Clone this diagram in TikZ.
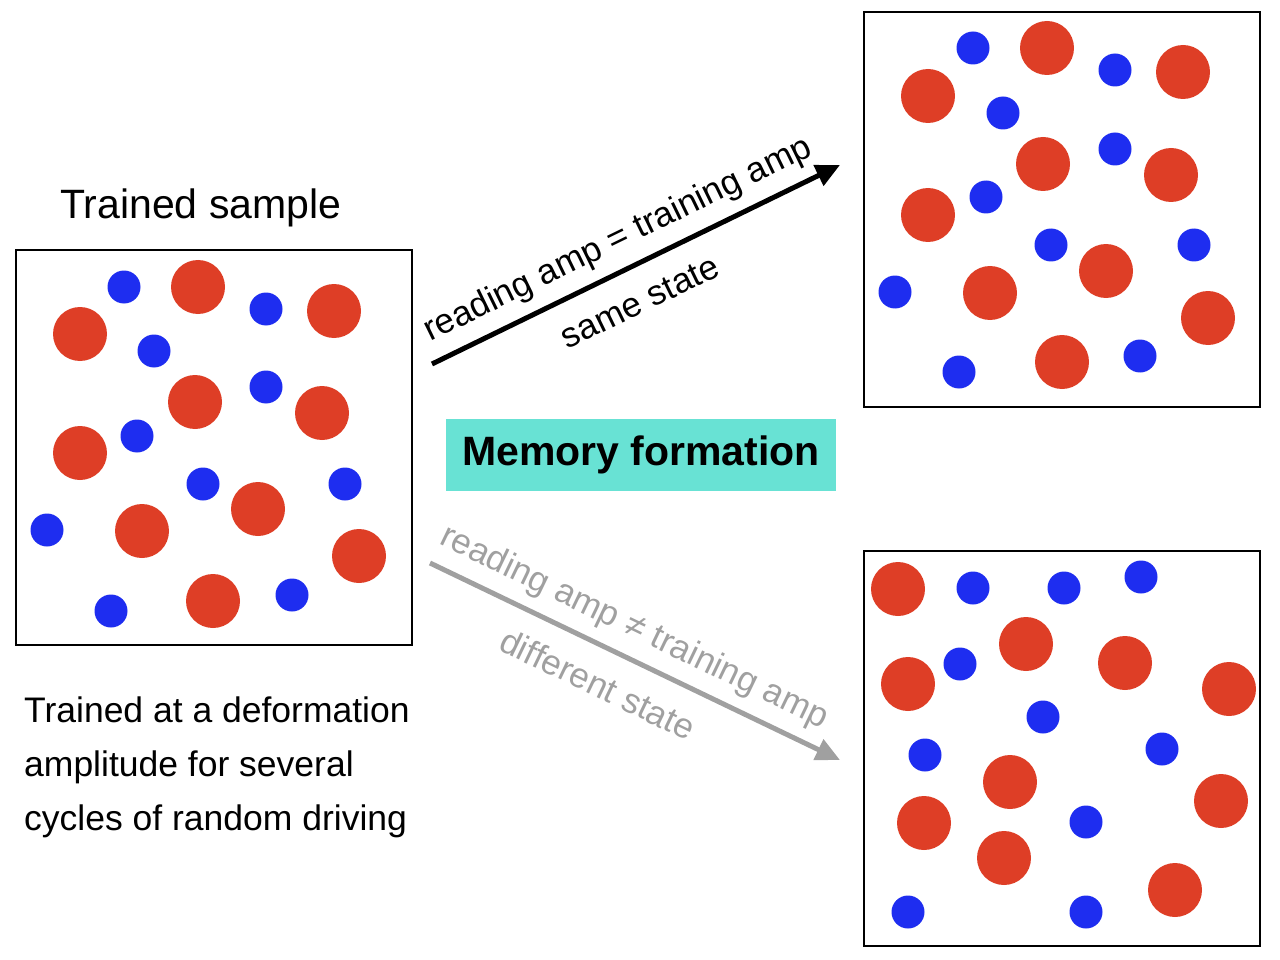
\documentclass[tikz,border=0pt]{standalone}
\usepackage{fontspec}
\setmainfont{Liberation Sans}
\usetikzlibrary{arrows.meta}
\definecolor{rd}{RGB}{222,62,38}
\definecolor{bl}{RGB}{30,45,240}
\definecolor{tq}{RGB}{104,226,212}
\definecolor{gr}{RGB}{160,160,160}
\begin{document}
\begin{tikzpicture}[x=1pt,y=-1pt,
  box/.style={draw=black,line width=2pt},
  R/.style={fill=rd},B/.style={fill=bl},
  lab/.style={font=\fontsize{35}{38}\selectfont,inner sep=0pt}]
\useasboundingbox (0,0) rectangle (1280,960);
\draw[box] (16,250) rectangle (412,645);
\draw[box] (864,12) rectangle (1260,407);
\draw[box] (864,551) rectangle (1260,946);
\foreach \x/\y in {124/287,266/309,154/351,266/387,137/436,203/484,345/484,47/530,292/595,111/611,
973/48,1115/70,1003/113,1115/149,986/197,1051/245,1194/245,895/292,1140/356,959/372,
973/588,1064/588,1141/577,960/664,1043/717,925/755,1162/749,1086/822,908/912,1086/912}
  \fill[B] (\x,\y) circle (16.5);
\foreach \x/\y in {198/287,80/334,334/311,195/402,322/413,80/453,258/509,142/531,359/556,213/601,
1047/48,928/96,1183/72,1043/164,1171/175,928/215,1106/271,990/293,1208/318,1062/362,
898/589,1026/644,1125/663,908/684,1229/689,1010/782,1221/801,924/823,1004/858,1175/890}
  \fill[R] (\x,\y) circle (27);
\node[font=\fontsize{41}{44}\selectfont,anchor=west,inner sep=0pt] (ts) at (60,208) {Trained sample};
\node[font=\fontsize{35.5}{54}\selectfont,anchor=north west,align=left,inner sep=0pt] (desc) at (24,697)
  {Trained at a deformation\\amplitude for several\\cycles of random driving};
\node[fill=tq,minimum width=390,minimum height=72,font=\bfseries\fontsize{41}{44}\selectfont] (mf) at (641,455) {Memory formation};
\coordinate (a1) at (432,364); \coordinate (a2) at (840,165);
\coordinate (b1) at (430,563); \coordinate (b2) at (840,760);
\draw[line width=5pt,-{Triangle[length=24pt,width=22pt]}] (a1) -- (a2);
\draw[gr,line width=5pt,-{Triangle[length=24pt,width=22pt]}] (b1) -- (b2);
\node[lab,rotate=26] (l1) at (618,240) {reading amp = training amp};
\node[lab,rotate=26] (l2) at (640,302) {same state};
\node[lab,gr,rotate=-25.7] (l3) at (634,628) {reading amp ≠ training amp};
\node[lab,gr,rotate=-25.7] (l4) at (598,684) {different state};
\end{tikzpicture}
\end{document}
